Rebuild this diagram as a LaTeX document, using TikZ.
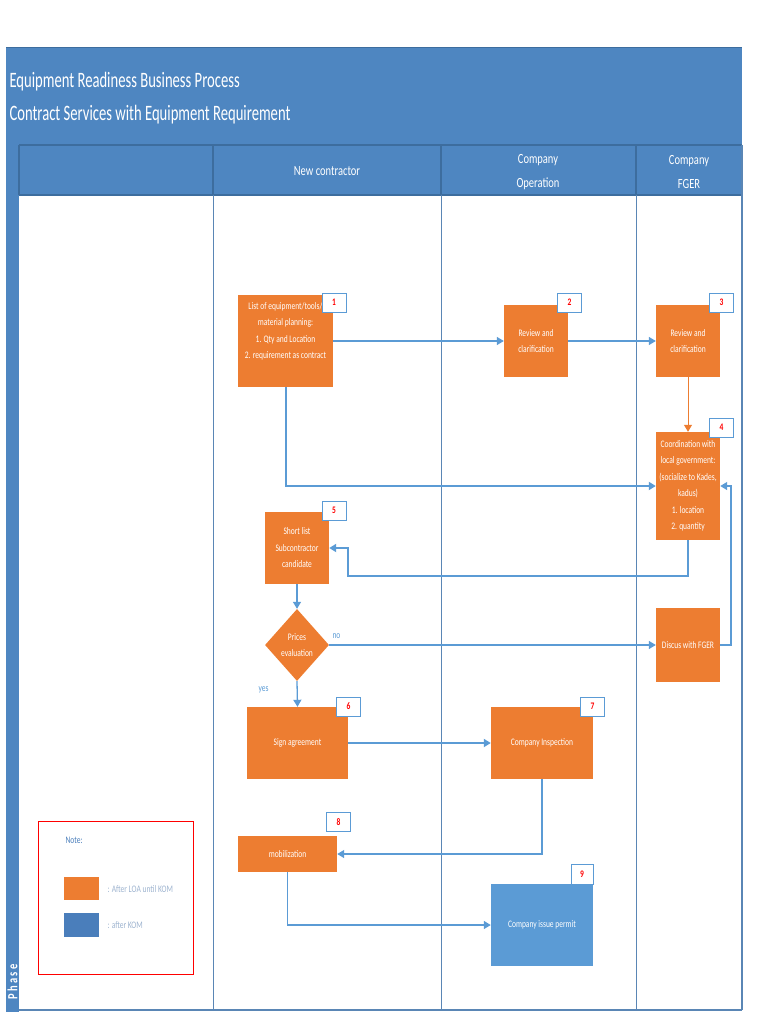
\documentclass[tikz,border=0pt]{standalone}
\usepackage{fontspec}
\setmainfont[FakeStretch=0.75]{Carlito}
\newfontfamily\titlefont[FakeStretch=0.665]{Carlito}
\usetikzlibrary{shapes.geometric,arrows.meta}
\definecolor{hdrblue}{HTML}{4E86C1}
\definecolor{hdrline}{HTML}{3D6D9E}
\definecolor{laneline}{HTML}{5A86B5}
\definecolor{taskorange}{HTML}{ED7D31}
\definecolor{taskblue}{HTML}{5B9BD5}
\definecolor{flowblue}{HTML}{5B9BD5}
\definecolor{notetext}{HTML}{9DB3CF}
\definecolor{noteblue}{HTML}{4A7EBB}
\begin{document}
\begin{tikzpicture}[x=1pt,y=-1pt,
  task/.style={fill=taskorange,text=white,align=center,inner sep=2pt,font=\fontsize{10}{16.5}\selectfont},
  stepnum/.style={draw=flowblue,fill=white,text=red,inner sep=0,minimum width=24,minimum height=19,font=\bfseries\fontsize{10}{12}\selectfont},
  flow/.style={draw=flowblue,line width=1.3pt,-{Triangle[width=8pt,length=7pt]}},
  bigflow/.style={flow,line width=2pt}]
\useasboundingbox (0,0) rectangle (768,1024);
% header and phase strip
\fill[hdrblue] (6,47) rectangle (742,195);
\fill[hdrblue] (6,195) rectangle (19,1012);
\draw[hdrline] (6,47) -- (742,47);
\draw[hdrline,line width=1.2pt] (19,145) -- (742,145) (19,195) -- (742,195);
\foreach \x in {19,213,441,636}
  \draw[hdrline,line width=1.2pt] (\x,145) -- (\x,195);
\node[anchor=west,text=white,align=left,font=\titlefont\fontsize{22}{33}\selectfont] (ttl) at (6,98)
  {Equipment Readiness Business Process\\Contract Services with Equipment Requirement};
\node[text=white,font=\fontsize{14}{24}\selectfont] (hnew) at (327,171) {New contractor};
\node[text=white,align=center,font=\fontsize{14}{24}\selectfont] (hops) at (538,172) {Company\\Operation};
\node[text=white,align=center,font=\fontsize{14}{24}\selectfont] (hfger) at (689,172) {Company\\FGER};
\node[rotate=90,text=white,font=\bfseries\fontsize{14}{16}\selectfont] (phase) at (12.5,982) {P\,h\,a\,s\,e};
% lanes
\foreach \x in {213,441,636}
  \draw[laneline] (\x,195) -- (\x,1010);
\draw[laneline,line width=1.2pt] (742,145) -- (742,1010);
\draw[laneline,line width=2pt] (19,1010) -- (742,1010);
% tasks
\node[task,minimum width=95,minimum height=92] (n1) at (285.5,341)
  {List of equipment/tools/\\material planning:\\1. Qty and Location\\2. requirement as contract\\[4pt]};
\node[task,minimum width=64,minimum height=72] (n2) at (536,341) {Review and\\clarification};
\node[task,minimum width=64,minimum height=72] (n3) at (688,341) {Review and\\clarification};
\node[task,minimum width=64,minimum height=108] (n4) at (688,486)
  {Coordination with\\local government:\\(socialize to Kades,\\kadus)\\1. location\\2. quantity};
\node[task,minimum width=64,minimum height=72] (n5) at (297,548) {Short list\\Subcontractor\\candidate};
\node[task,shape=diamond,inner sep=0,shape aspect=0.9,minimum width=64,minimum height=72] (dia) at (297,645) {Prices\\evaluation};
\node[task,minimum width=64,minimum height=74] (nd) at (688,645) {Discus with FGER};
\node[task,minimum width=101,minimum height=72] (n6) at (297.5,743) {Sign agreement};
\node[task,minimum width=102,minimum height=72] (n7) at (542,743) {Company Inspection};
\node[task,minimum width=99,minimum height=36] (n8) at (287.5,854) {mobilization};
\node[task,fill=taskblue,minimum width=102,minimum height=82] (n9) at (542,925) {Company issue permit};
% step numbers
\node[stepnum] (nb1) at (334,302.5) {1};
\node[stepnum] (nb2) at (569.5,302.5) {2};
\node[stepnum] (nb3) at (721.5,302.5) {3};
\node[stepnum] (nb4) at (721.5,427.5) {4};
\node[stepnum] (nb5) at (334,510.5) {5};
\node[stepnum] (nb6) at (348.5,706.5) {6};
\node[stepnum] (nb7) at (592.5,706.5) {7};
\node[stepnum] (nb8) at (338.5,822) {8};
\node[stepnum,minimum width=22,minimum height=20] (nb9) at (582,874) {9};
% flows
\draw[flow] (n1.east) -- (n2.west);
\draw[flow] (n2.east) -- (n3.west);
\draw[flow,draw=taskorange,line width=1pt] (n3.south) -- (n4.north);
\draw[bigflow] (n1.south) |- (n4.west);
\coordinate (c45) at (348,576);
\draw[bigflow] (n4.south) |- (c45) |- (n5.east);
\draw[flow] (n5.south) -- (dia.north);
\draw[flow] (dia.east) -- (nd.west);
\coordinate (cd4) at (731,645);
\draw[flow] (nd.east) -- (cd4) |- (n4.east);
\draw[flow] (dia.south) -- (n6.north);
\draw[bigflow] (n6.east) -- (n7.west);
\draw[flow] (n7.south) |- (n8.east);
\draw[flow] (n8.south) |- (n9.west);
\node[anchor=west,text=flowblue,font=\fontsize{10}{12}\selectfont] (lno) at (329,636) {no};
\node[anchor=west,text=flowblue,font=\fontsize{10}{12}\selectfont] (lyes) at (255,690) {yes};
% note
\draw[red,line width=0.8pt] (38,821) rectangle (193,974);
\node[anchor=west,text=noteblue,font=\fontsize{10}{12}\selectfont] (note) at (62,840) {Note:};
\fill[taskorange] (64,877) rectangle (99,900);
\fill[noteblue] (64,913) rectangle (99,937);
\node[anchor=west,text=notetext,font=\fontsize{10}{12}\selectfont] (kloa) at (104,889) {: After LOA until KOM};
\node[anchor=west,text=notetext,font=\fontsize{10}{12}\selectfont] (kkom) at (104,925) {: after KOM};
\end{tikzpicture}
\end{document}
